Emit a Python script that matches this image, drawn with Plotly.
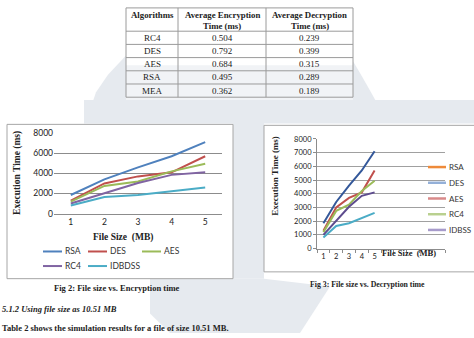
import plotly.graph_objects as go

W, H = 474, 338

# ---- data ----
algorithms = ["RC4", "DES", "AES", "RSA", "MEA"]
avg_encryption_ms = ["0.504", "0.792", "0.684", "0.495", "0.362"]
avg_decryption_ms = ["0.239", "0.399", "0.315", "0.289", "0.189"]
table_headers = [["Algorithms"],
                 ["Average Encryption", "Time (ms)"],
                 ["Average Decryption", "Time (ms)"]]

file_sizes = [1, 2, 3, 4, 5]
size_labels = ["1", "2", "3", "4", "5"]
rsa_ms = [1850, 3400, 4600, 5700, 7100]
des_ms = [1300, 3000, 3700, 4100, 5700]
aes_ms = [1200, 2750, 3200, 4200, 4950]
rc4_ms = [1000, 2000, 3050, 3850, 4100]
idbdss_ms = [800, 1650, 1850, 2200, 2600]

series = [("RSA", rsa_ms), ("DES", des_ms), ("AES", aes_ms),
          ("RC4", rc4_ms), ("IDBDSS", idbdss_ms)]
enc_colors = ["#4F81BD", "#C0504D", "#9BBB59", "#8064A2", "#4BACC6"]
dec_colors = ["#34589A", "#C0504D", "#9BBB59", "#5E4C8E", "#4BACC6"]

dec_legend_names = ["RSA", "DES", "AES", "RC4", "IDBSS"]
dec_legend_colors = ["#EE8A3A", "#94B0D8", "#D98A8A", "#B9D08F", "#A79BCB"]


def px(x):
    return x / W


def py(y):
    return 1 - y / H


SERIF = "Liberation Serif"
SANS = "Lato"

fig = go.Figure()

# ---- encryption chart ----
for (name, vals), c in zip(series, enc_colors):
    fig.add_trace(go.Scatter(
        x=size_labels, y=vals, mode="lines", name=name, showlegend=False,
        line=dict(color=c, width=2), xaxis="x", yaxis="y"))

# ---- decryption chart ----
for (name, vals), c in zip(series, dec_colors):
    fig.add_trace(go.Scatter(
        x=file_sizes, y=vals, mode="lines", name=name, showlegend=False,
        line=dict(color=c, width=2), xaxis="x2", yaxis="y2"))

shapes = []
annotations = []


def text(x, y, s, size, family=SERIF, color="#222", **kw):
    d = dict(x=px(x), y=py(y), xref="paper", yref="paper", text=s,
             showarrow=False, xanchor="center", yanchor="middle",
             font=dict(family=family, size=size, color=color))
    d.update(kw)
    annotations.append(d)


def hline(x0, x1, y, color, width=1):
    shapes.append(dict(type="line", xref="paper", yref="paper",
                       x0=px(x0), x1=px(x1), y0=py(y), y1=py(y),
                       line=dict(color=color, width=width)))


def vline(x, y0, y1, color, width=1):
    shapes.append(dict(type="line", xref="paper", yref="paper",
                       x0=px(x), x1=px(x), y0=py(y0), y1=py(y1),
                       line=dict(color=color, width=width)))


# faint watermark behind the page content
wm = "#E6EAEF"
watermark_polys = [
    [(88, 114), (96, 90), (108, 72), (126, 52), (126, 114)],
    [(353, 58), (360, 70), (370, 88), (384, 114), (353, 114)],
    [(126, 62), (353, 62), (353, 98), (126, 98)],
    [(84, 98), (474, 98), (474, 122), (84, 122)],
    [(233, 120), (264, 120), (264, 282), (233, 282)],
    [(150, 282), (264, 282), (330, 290), (300, 338), (170, 338), (150, 318)],
]
for i, poly in enumerate(watermark_polys):
    path = "M " + " L ".join(f"{px(x)},{py(y)}" for x, y in poly) + " Z"
    shapes.append(dict(type="path", xref="paper", yref="paper", path=path,
                       fillcolor="#F1F3F6" if i == 2 else wm,
                       line=dict(width=0), layer="below"))

# ---- table ----
col_edges = [126, 178, 266, 353]
row_edges = [3, 27, 40.6, 54.2, 67.8, 81.4, 95]
tbl_line = "#9A9A9A"
for y in row_edges:
    hline(col_edges[0], col_edges[-1], y, tbl_line)
for x in col_edges:
    vline(x, row_edges[0], row_edges[-1], tbl_line)

for ci, lines in enumerate(table_headers):
    cx = (col_edges[ci] + col_edges[ci + 1]) / 2
    for li, s in enumerate(lines):
        text(cx, 10 + li * 11.5, f"<b>{s}</b>", 8.8)

for ci, column in enumerate([algorithms, avg_encryption_ms, avg_decryption_ms]):
    cx = (col_edges[ci] + col_edges[ci + 1]) / 2
    for ri, s in enumerate(column):
        cy = (row_edges[ri + 1] + row_edges[ri + 2]) / 2
        text(cx, cy, s, 9)

# chart frames
shapes.append(dict(type="rect", xref="paper", yref="paper",
                   x0=px(7), x1=px(233), y0=py(282), y1=py(123),
                   fillcolor="white", line=dict(color="#A6A6A6", width=1),
                   layer="below"))
shapes.append(dict(type="rect", xref="paper", yref="paper",
                   x0=px(264), x1=px(480), y0=py(275), y1=py(124),
                   fillcolor="white", line=dict(color="#A6A6A6", width=1),
                   layer="below"))

# encryption chart legend (two rows)
enc_leg_pos = [(43, 254), (88, 254), (142, 254), (43, 269), (88, 269)]
for (name, _), c, (lx, ly) in zip(series, enc_colors, enc_leg_pos):
    hline(lx, lx + 19, ly, c, 2)
    text(lx + 20, ly, name, 8.5, family=SANS, color="#333", xanchor="left")

# decryption chart legend
for i, (name, c) in enumerate(zip(dec_legend_names, dec_legend_colors)):
    ly = 167 + i * 16.2
    hline(428, 446, ly, c, 2.5)
    text(447, ly, name, 8, family=SANS, color="#333", xanchor="left")

# axis titles
text(18, 173, "<b>Execution Time (ms)</b>", 9.5, textangle=-90)
text(123, 240, "<b>File Size  (MB)</b>", 9.5)
text(275, 176, "<b>Execution Time (ms)</b>", 9, textangle=-90)
text(409, 256, "<b>File Size  (MB)</b>", 8.5)

# captions and body text
text(117, 292, "<b>Fig 2: File size vs. Encryption time</b>", 8.5)
text(367, 288, "<b>Fig 3: File size vs. Decryption time</b>", 7.8)
text(0, 313, "<b><i>5.1.2 Using file size as 10.51 MB</i></b>", 8.5,
     xanchor="left")
text(0, 333, "<b>Table 2 shows the simulation results for a file of size 10.51 MB.</b>",
     8.5, xanchor="left")

fig.update_layout(
    width=W, height=H,
    margin=dict(l=0, r=0, t=0, b=0),
    paper_bgcolor="white", plot_bgcolor="rgba(0,0,0,0)",
    showlegend=False,
    shapes=shapes, annotations=annotations,
    xaxis=dict(domain=[px(54), px(222)], anchor="y", type="category",
               categoryorder="array", categoryarray=size_labels,
               range=[-0.5, 4.5], showgrid=False, showline=True,
               linecolor="#8C8C8C", ticks="", zeroline=False,
               tickfont=dict(family=SANS, size=8.5, color="#222")),
    yaxis=dict(domain=[py(215), py(132)], anchor="x", range=[0, 8000],
               tickvals=[0, 2000, 4000, 6000, 8000], showgrid=True,
               gridcolor="#8C8C8C", gridwidth=1, showline=False, zeroline=False,
               ticks="", tickfont=dict(family=SANS, size=8.5, color="#222")),
    xaxis2=dict(domain=[px(317), px(445)], anchor="y2", range=[0.5, 10.5],
                tickmode="array", tickvals=file_sizes, ticktext=size_labels,
                showgrid=False, showline=True, linecolor="#8C8C8C",
                ticks="", zeroline=False,
                minor=dict(ticks="outside", tickmode="linear", tick0=0.5,
                           dtick=1, ticklen=3, tickcolor="#8C8C8C",
                           showgrid=False),
                tickfont=dict(family=SANS, size=7.5, color="#222")),
    yaxis2=dict(domain=[py(251), py(138)], anchor="x2", range=[0, 8000],
                dtick=1000, showgrid=True, gridcolor="#A0A0A0", gridwidth=1,
                showline=True, linecolor="#8C8C8C", zeroline=False,
                ticks="outside", ticklen=3, tickcolor="#8C8C8C",
                tickfont=dict(family=SANS, size=7.5, color="#222")),
)

fig.write_html("out.html")
